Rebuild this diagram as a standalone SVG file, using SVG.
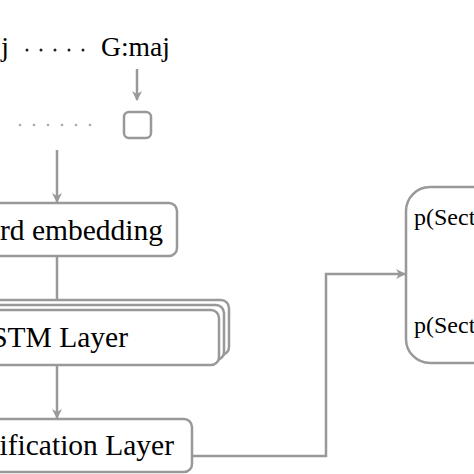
<svg xmlns="http://www.w3.org/2000/svg" width="474" height="474" viewBox="0 0 474 474">
<style>
.box{fill:#fff;stroke:#999;stroke-width:2.5}
.ln{fill:none;stroke:#999;stroke-width:2.5}
.t{font-family:"Liberation Serif","Times New Roman",serif;fill:#000}
.big{font-size:29.5px}
.mid{font-size:27.5px}
.sm{font-size:24px}
</style>
<defs>
<marker id="ah" viewBox="0 0 10 10" refX="9" refY="5" markerWidth="11" markerHeight="10" orient="auto" markerUnits="userSpaceOnUse">
<path d="M0,0 L10,5 L0,10 L3,5 Z" fill="#999"/>
</marker>
</defs>
<rect width="474" height="474" fill="#fff"/>
<g id="tokens">
<text class="t mid" x="9" y="56" text-anchor="end">j</text>
<g fill="#222">
<circle cx="27" cy="50" r="1.5"/><circle cx="41" cy="50" r="1.5"/><circle cx="55" cy="50" r="1.5"/><circle cx="69" cy="50" r="1.5"/><circle cx="83" cy="50" r="1.5"/>
</g>
<text class="t mid" x="135.5" y="56" text-anchor="middle" textLength="69" lengthAdjust="spacingAndGlyphs">G:maj</text>
</g>
<g id="inputs">
<g fill="#aaa">
<circle cx="20" cy="125" r="1.3"/><circle cx="34" cy="125" r="1.3"/><circle cx="48" cy="125" r="1.3"/><circle cx="62" cy="125" r="1.3"/><circle cx="76" cy="125" r="1.3"/><circle cx="90" cy="125" r="1.3"/>
</g>
<rect class="box" x="124" y="112" width="27" height="26" rx="5"/>
</g>
<g id="embedding">
<rect class="box" x="-10" y="203" width="187" height="53" rx="8"/>
<text class="t big" x="163" y="240" text-anchor="end">rd embedding</text>
</g>
<g id="lstm">
<rect class="box" x="-10" y="300" width="239" height="55" rx="8"/>
<rect class="box" x="-10" y="305" width="234" height="55" rx="8"/>
<rect class="box" x="-10" y="310" width="229" height="55" rx="8"/>
<text class="t big" x="128" y="347" text-anchor="end">STM Layer</text>
</g>
<g id="classification">
<rect class="box" x="-10" y="419" width="202" height="53" rx="8"/>
<text class="t big" x="174" y="455" text-anchor="end">ification Layer</text>
</g>
<g id="output">
<rect class="box" x="406" y="187" width="90" height="176" rx="24"/>
<text class="t sm" x="414" y="225">p(Sect</text>
<text class="t sm" x="414" y="333">p(Sect</text>
</g>
<g id="connectors">
<line class="ln" x1="137" y1="69" x2="137" y2="100" marker-end="url(#ah)"/>
<line class="ln" x1="57" y1="150" x2="57" y2="202" marker-end="url(#ah)"/>
<line class="ln" x1="57" y1="256" x2="57" y2="300"/>
<line class="ln" x1="57" y1="365" x2="57" y2="418" marker-end="url(#ah)"/>
<polyline class="ln" points="192,456 326,456 326,274 405,274" marker-end="url(#ah)"/>
</g>
</svg>
